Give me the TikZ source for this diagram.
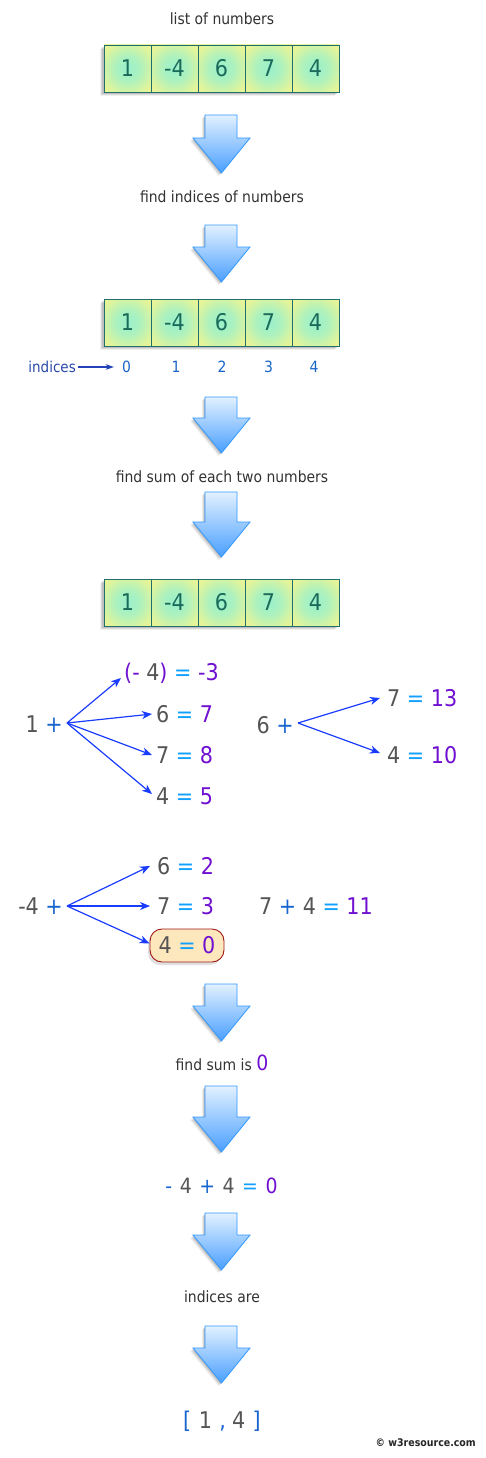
\documentclass[tikz,border=0pt]{standalone}
\usepackage{fontspec}
\setmainfont{DejaVu Sans Condensed}
\usetikzlibrary{arrows.meta}
\definecolor{cellborder}{HTML}{1F6F6F}
\definecolor{cellin}{HTML}{98F0CC}
\definecolor{cellout}{HTML}{F2F590}
\definecolor{arrtxt}{HTML}{1A6A5A}
\definecolor{lbltxt}{HTML}{333333}
\definecolor{numgray}{HTML}{555555}
\definecolor{plusblue}{HTML}{1A66D0}
\definecolor{eqblue}{HTML}{10A0FF}
\definecolor{respurple}{HTML}{7010D0}
\definecolor{sumarrow}{HTML}{1A3CFF}
\definecolor{idxblue}{HTML}{1A66C8}
\definecolor{idxlabel}{HTML}{2A4AA8}
\definecolor{idxarrow}{HTML}{2344B8}
\definecolor{arrowline}{HTML}{3399FF}
\definecolor{arrowtop}{HTML}{E2F1FF}
\definecolor{arrowbot}{HTML}{4A9FFF}
\definecolor{hlfill}{HTML}{FDE7BD}
\definecolor{hlborder}{HTML}{A01818}
\pgfdeclareradialshading{cellshade}{\pgfpoint{0bp}{0bp}}{color(0bp)=(cellin); color(14bp)=(cellin!75!cellout); color(30bp)=(cellout!85!cellin); color(40bp)=(cellout); color(50bp)=(cellout)}
\newcommand\fsz[1]{\fontsize{#1pt}{#1pt}\selectfont}
\newcommand\cG[1]{\textcolor{numgray}{#1}}
\newcommand\cP[1]{\textcolor{plusblue}{#1}}
\newcommand\cE[1]{\textcolor{eqblue}{#1}}
\newcommand\cR[1]{\textcolor{respurple}{#1}}
\newcommand\gap{\hspace{7.5pt}}
\newcommand\bigarrow[2]{%
  \foreach \s/\o in {3/0.07,2/0.10,1/0.12}{%
    \fill[black,opacity=\o,shift={(-\s,\s)}] (205,#1) -- (237,#1) -- (237,#2-35) -- (250,#2-35) -- (221.5,#2) -- (193,#2-35) -- (205,#2-35) -- cycle;}
  \draw[bigarr] (205,#1) -- (237,#1) -- (237,#2-35) -- (250,#2-35) -- (221.5,#2) -- (193,#2-35) -- (205,#2-35) -- cycle;
}
\newcommand\numrow[2]{%
  \foreach \s/\o in {4/0.06,3/0.09,2/0.12}{%
    \fill[black,opacity=\o] (104-\s,#2-23.5+\s) rectangle (339-\s,#2+23.5+\s);}
  \foreach \v [count=\i] in {1,-4,6,7,4}
    \node[cell] (#1\i) at ({127.5+47*(\i-1)},#2) {\v};
}
\begin{document}
\begin{tikzpicture}[x=1pt,y=-1pt,
  cell/.style={minimum width=47pt, minimum height=47pt, inner sep=0pt, draw=cellborder, line width=0.9pt, shading=cellshade, text=arrtxt, font=\fsz{23}},
  lbl/.style={font=\fsz{15.5}, text=lbltxt, inner sep=0pt, anchor=base},
  sum/.style={font=\fsz{23}, inner sep=0pt, text height=16.5pt, text depth=0pt, anchor=west},
  op/.style={font=\fsz{23}, inner sep=0pt, text height=16.5pt, text depth=0pt, anchor=east},
  hl/.style={font=\fsz{23}, draw=hlborder, fill=hlfill, line width=0.9pt, rounded corners=12pt, minimum width=74pt, minimum height=33pt, inner sep=0pt, text height=16.5pt, text depth=0pt},
  sumarr/.style={draw=sumarrow, line width=1.2pt, -{Stealth[length=10pt,width=8pt,inset=3pt]}},
  idxarr/.style={draw=idxarrow, line width=1.2pt, -{Stealth[length=8pt,width=5.5pt,inset=2pt]}},
  bigarr/.style={draw=arrowline, line width=0.8pt, top color=arrowtop, bottom color=arrowbot},
  idx/.style={font=\fsz{15.5}, text=idxblue, inner sep=0pt}]
\useasboundingbox (0,0) rectangle (486,1458);
\fill[white] (0,0) rectangle (486,1458);

\node[lbl] (l1) at (222,25) {list of numbers};
\numrow{a}{68.5}
\bigarrow{115}{173}
\node[lbl] (l2) at (222,202) {find indices of numbers};
\bigarrow{225}{282}
\numrow{b}{322.5}

\node[font=\fsz{15}, text=idxlabel, inner sep=0pt, anchor=east] (il) at (76,367) {indices};
\node[idx] (i0) at (126.5,367) {0};
\node[idx] (i1) at (176,367) {1};
\node[idx] (i2) at (222,367) {2};
\node[idx] (i3) at (268.5,367) {3};
\node[idx] (i4) at (314,367) {4};
\draw[idxarr] ([xshift=2pt]il.east) -- ([xshift=-8pt]i0.west);

\bigarrow{397}{453}
\node[lbl] (l3) at (222,482) {find sum of each two numbers};
\bigarrow{492}{557}
\numrow{c}{602.5}

% 1 + ...
\node[op] (p1) at (63,724) {\cG{1} \cP{+}};
\coordinate (o1) at (67,723);
\node[sum] (s1) at (124,672) {\cR{(-} \cG{4}\cR{)} \cE{=} \cR{-3}};
\node[sum] (s2) at (156,714) {\cG{6} \cE{=} \cR{7}};
\node[sum] (s3) at (156,755) {\cG{7} \cE{=} \cR{8}};
\node[sum] (s4) at (156,796) {\cG{4} \cE{=} \cR{5}};
\draw[sumarr] (o1) -- ([xshift=-3pt,yshift=-6pt]s1.west);
\draw[sumarr] (o1) -- ([xshift=-4pt]s2.west);
\draw[sumarr] (o1) -- ([xshift=-4pt]s3.west);
\draw[sumarr] (o1) -- ([xshift=-4pt,yshift=2pt]s4.west);

% 6 + ...
\node[op] (p2) at (294,725) {\cG{6} \cP{+}};
\coordinate (o2) at (298,723);
\node[sum] (t1) at (387,698) {\cG{7} \cE{=} \cR{13}};
\node[sum] (t2) at (387,755) {\cG{4} \cE{=} \cR{10}};
\draw[sumarr] (o2) -- ([xshift=-7pt]t1.west);
\draw[sumarr] (o2) -- ([xshift=-7pt,yshift=2pt]t2.west);

% -4 + ...
\node[op] (p3) at (63,906) {\cG{-4} \cP{+}};
\coordinate (o3) at (67,906);
\node[sum] (u1) at (157,866) {\cG{6} \cE{=} \cR{2}};
\node[sum] (u2) at (157,906) {\cG{7} \cE{=} \cR{3}};
\fill[black,opacity=0.12,rounded corners=12pt] (148,932) rectangle (222,965);
\node[hl] (u3) at (187,945.5) {\cG{4} \cE{=} \cR{0}};
\draw[sumarr] (o3) -- ([xshift=-7pt]u1.west);
\draw[sumarr] (o3) -- ([xshift=-7pt]u2.west);
\draw[sumarr] (o3) -- ([yshift=2pt]u3.west);
\node[sum] (v1) at (259,906) {\cG{7} \cP{+} \cG{4} \cE{=} \cR{11}};

\bigarrow{984}{1041}
\node[lbl] (l4) at (222,1070) {find sum is \cR{\fsz{21}0}};
\bigarrow{1086}{1152}
\node[font=\fsz{21}, inner sep=0pt, anchor=base] (r1) at (221.5,1193) {\cP{-}\gap\cG{4}\gap\cP{+}\gap\cG{4}\gap\cE{=}\gap\cR{0}};
\bigarrow{1213}{1270}
\node[lbl] (l5) at (222,1302) {indices are};
\bigarrow{1326}{1383}
\node[font=\fsz{23}, inner sep=0pt, anchor=base] (r2) at (222,1428) {\cP{[}\gap\cG{1}\gap\cP{,}\hspace{6pt}\cG{4}\gap\cP{]}};
\node[font=\fsz{10.5}\bfseries, text=black!85, inner sep=0pt, anchor=east] (cp) at (476,1443) {© w3resource.com};
\end{tikzpicture}
\end{document}
